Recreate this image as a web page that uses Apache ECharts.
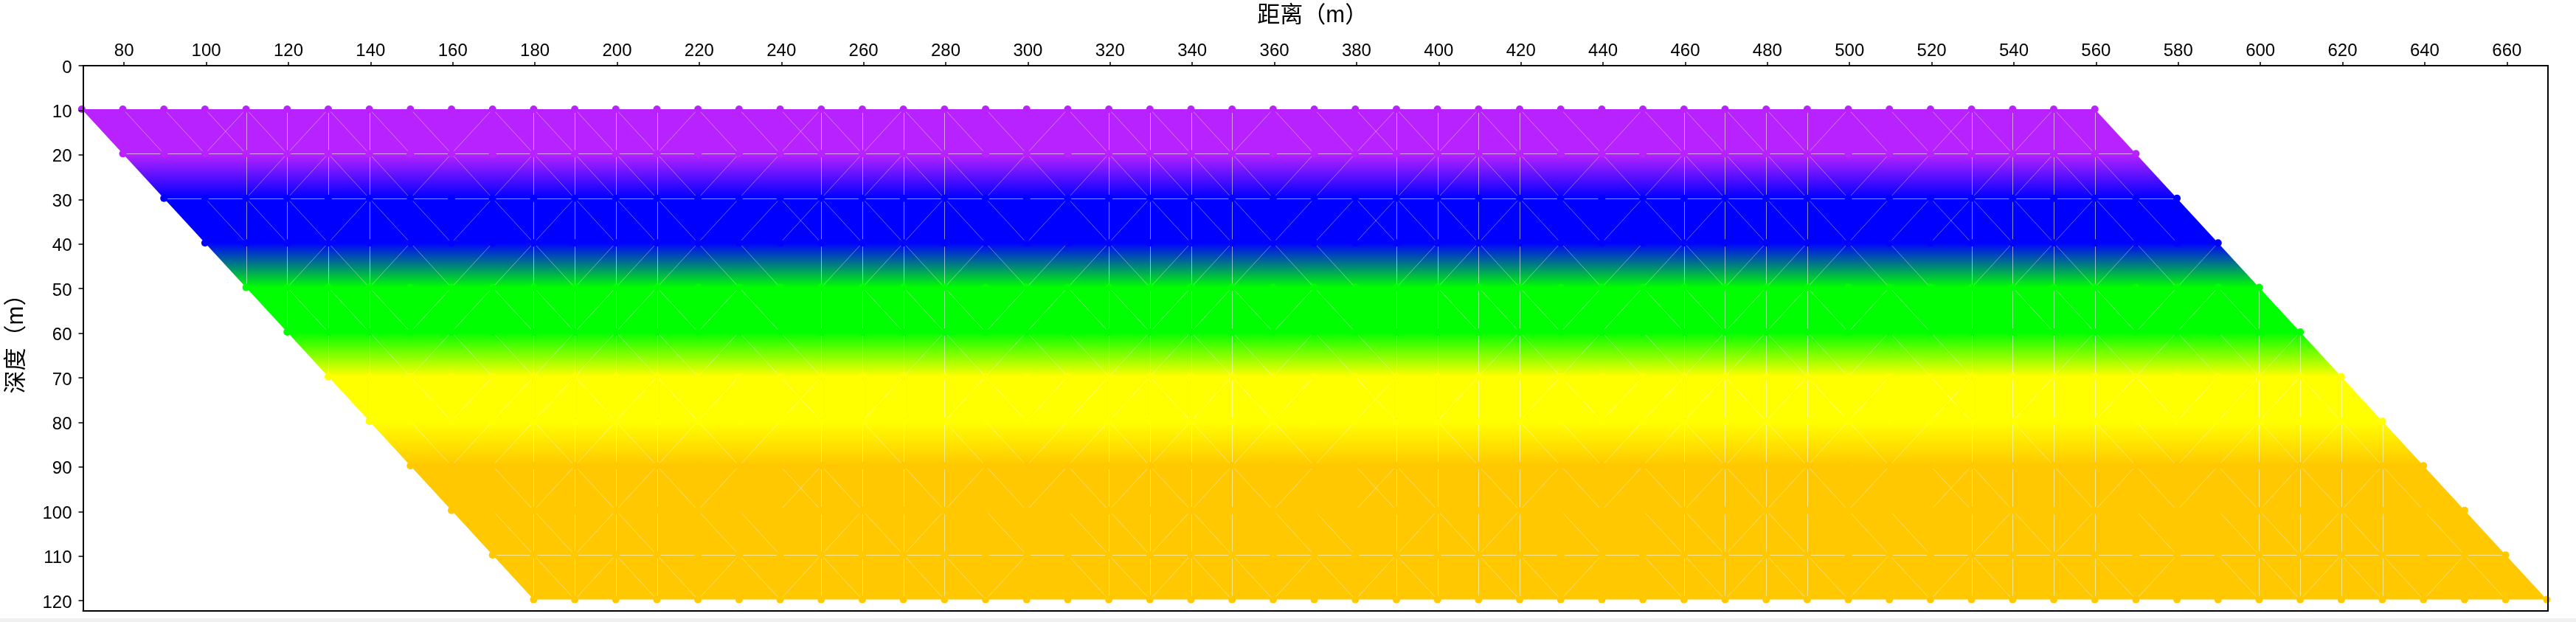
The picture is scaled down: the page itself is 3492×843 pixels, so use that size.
<!DOCTYPE html>
<html>
<head>
<meta charset="utf-8">
<style>
html, body { margin: 0; padding: 0; background: #fff; }
#main { width: 3492px; height: 843px; }
</style>
<script src="https://cdn.jsdelivr.net/npm/echarts@6/dist/echarts.min.js"></script>
</head>
<body>
<div id="main"></div>
<script>
var xTicks = [80, 100, 120, 140, 160, 180, 200, 220, 240, 260, 280, 300, 320, 340, 360, 380, 400, 420, 440, 460, 480, 500, 520, 540, 560, 580, 600, 620, 640, 660];
var yTicks = [0, 10, 20, 30, 40, 50, 60, 70, 80, 90, 100, 110, 120];

// one row of measuring nodes per depth, every 10 m between start and end
var depths = [10, 20, 30, 40, 50, 60, 70, 80, 90, 100, 110, 120];
var rowStarts = [70, 80, 90, 100, 110, 120, 130, 140, 150, 160, 170, 180];
var rowEnds = [560, 570, 580, 590, 600, 610, 620, 630, 640, 650, 660, 670];
// colour class of each row
var rowLevels = [0, 0, 1, 1, 2, 2, 3, 3, 4, 4, 4, 4];
var levelColors = ['#b822ff', '#0000ff', '#00ff00', '#ffff00', '#ffc800'];

// mesh links leaving each row, repeats every 140 m from x=110
// r: down right, l: down left, b: both, -: none
var rowLinks = [
    'b-brr-brrr-brr',
    '-lbr-b-brrr-ll',
    'br-br-b-brr-lb',
    '-lb-b-lb-llbr-',
    '-rrr-lbr-lb-b-',
    '---b-br-lbr-br',
    'l-l-b-llb-b-lr',
    '-r-rr-lb-b-b-l',
    'b-r-b-b-b-b-lr',
    '-b-lr-rr-b-rr-',
    'b-rr-lrr-br-b-'
];
var horizontalRows = [20, 30, 110];
var verticalGaps = [[130, 30], [200, 70]];

function inRow(x, i) {
    return x >= rowStarts[i] && x <= rowEnds[i];
}

function buildNodes() {
    var res = [];
    depths.forEach(function (d, i) {
        for (var x = rowStarts[i]; x <= rowEnds[i]; x += 10) {
            res.push([x, d, rowLevels[i]]);
        }
    });
    return res;
}

function buildLinks() {
    var res = [];
    depths.forEach(function (d, i) {
        // horizontal links
        if (horizontalRows.indexOf(d) > -1) {
            for (var hx = rowStarts[i]; hx < rowEnds[i]; hx += 10) {
                res.push([hx, d, hx + 10, d, 0.6]);
            }
        }
        if (i === depths.length - 1) return;
        var next = depths[i + 1];
        for (var x = rowStarts[i]; x <= rowEnds[i]; x += 10) {
            var pos = (((x - 110) % 140) + 140) % 140 / 10;
            var c = rowLinks[i].charAt(pos);
            if ((c === 'r' || c === 'b') && x > rowStarts[i] && x < rowEnds[i]) {
                res.push([x, d, x + 10, next, 0.4]);
            }
            if ((c === 'l' || c === 'b') && inRow(x - 10, i + 1) && x - 10 > rowStarts[i + 1]) {
                res.push([x, d, x - 10, next, 0.4]);
            }
            // vertical links come in blocks of four columns every 70 m
            var gap = verticalGaps.some(function (g) { return g[0] === x && g[1] === d; });
            if (((x - 110) % 70 + 70) % 70 < 40 && inRow(x, i + 1) && !gap) {
                res.push([x, d, x, next, 0.55]);
            }
        }
    });
    return res;
}

var firstDepth = depths[0];
var lastDepth = depths[depths.length - 1];
var fillStops = depths.map(function (d, i) {
    return {
        offset: (d - firstDepth) / (lastDepth - firstDepth),
        color: levelColors[rowLevels[i]]
    };
});

var axisFont = { fontFamily: '"Liberation Sans", Arial, sans-serif', fontSize: 24, color: '#000' };
var titleFont = { fontFamily: '"Liberation Sans", "Noto Sans CJK SC", sans-serif', fontSize: 31, color: '#000' };
var frameLine = { show: true, onZero: false, lineStyle: { color: '#000', width: 2 } };

var option = {
    backgroundColor: '#fff',
    animation: false,
    grid: { left: 112.5, top: 89, right: 38, bottom: 15, outerBoundsMode: 'none' },
    graphic: [{
        type: 'rect',
        shape: { x: 0, y: 838, width: 3492, height: 5 },
        style: { fill: '#f0f0f0' }
    }],
    xAxis: [{
        type: 'value',
        position: 'top',
        min: 70,
        max: 670,
        z: 6,
        name: '距离（m）',
        nameLocation: 'middle',
        nameGap: 52,
        nameTextStyle: Object.assign({ padding: [0, 8, 0, 0] }, titleFont),
        axisLine: frameLine,
        axisTick: { length: 5, lineStyle: { color: '#000', width: 1.5 }, customValues: xTicks },
        axisLabel: Object.assign({ margin: 8, customValues: xTicks }, axisFont),
        splitLine: { show: false }
    }, {
        // mesh is drawn a touch up and left of the ticks in the original
        type: 'value',
        position: 'bottom',
        min: 70.3,
        max: 670.3,
        z: 6,
        axisLine: frameLine,
        axisTick: { show: false },
        axisLabel: { show: false },
        splitLine: { show: false }
    }],
    yAxis: [{
        type: 'value',
        position: 'left',
        inverse: true,
        min: 0,
        max: 122.3,
        z: 6,
        name: '深度（m）',
        nameLocation: 'middle',
        nameGap: 75,
        nameTextStyle: titleFont,
        axisLine: frameLine,
        axisTick: { length: 6, lineStyle: { color: '#000', width: 1.5 }, customValues: yTicks },
        // labels sit a few px under their ticks in the original
        axisLabel: Object.assign({ margin: 15, verticalAlign: 'top', lineHeight: 6, customValues: yTicks }, axisFont),
        splitLine: { show: false }
    }, {
        type: 'value',
        position: 'right',
        inverse: true,
        min: 0.25,
        max: 122.55,
        z: 6,
        axisLine: frameLine,
        axisTick: { show: false },
        axisLabel: { show: false },
        splitLine: { show: false }
    }],
    series: [{
        // gradient body of the section
        type: 'custom',
        xAxisIndex: 1,
        yAxisIndex: 1,
        silent: true,
        z: 2,
        clip: false,
        data: [[rowStarts[0], rowEnds[0], rowEnds[rowEnds.length - 1], rowStarts[rowStarts.length - 1]]],
        renderItem: function (params, api) {
            return {
                type: 'polygon',
                shape: {
                    points: [
                        api.coord([api.value(0), firstDepth]),
                        api.coord([api.value(1), firstDepth]),
                        api.coord([api.value(2), lastDepth]),
                        api.coord([api.value(3), lastDepth])
                    ]
                },
                style: { fill: new echarts.graphic.LinearGradient(0, 0, 0, 1, fillStops) }
            };
        }
    }, {
        // mesh links, straight ones snapped to whole pixels
        type: 'custom',
        xAxisIndex: 1,
        yAxisIndex: 1,
        silent: true,
        z: 3,
        clip: false,
        data: buildLinks(),
        renderItem: function (params, api) {
            var p1 = api.coord([api.value(0), api.value(1)]);
            var p2 = api.coord([api.value(2), api.value(3)]);
            if (api.value(0) === api.value(2)) {
                p1[0] = p2[0] = Math.round(p1[0]) + 0.5;
            }
            if (api.value(1) === api.value(3)) {
                p1[1] = p2[1] = Math.round(p1[1]) + 0.5;
            }
            return {
                type: 'line',
                shape: { x1: p1[0], y1: p1[1], x2: p2[0], y2: p2[1] },
                style: { stroke: '#fff', lineWidth: 1, opacity: api.value(4) }
            };
        }
    }, {
        // measuring nodes sit on top and hide the link ends
        type: 'scatter',
        xAxisIndex: 1,
        yAxisIndex: 1,
        silent: true,
        z: 4,
        clip: false,
        symbol: 'circle',
        symbolSize: 10,
        data: buildNodes(),
        itemStyle: {
            opacity: 1,
            color: function (p) {
                return levelColors[p.value[2]];
            }
        }
    }]
};

var chart = echarts.init(document.getElementById('main'));
chart.setOption(option);
</script>
</body>
</html>
